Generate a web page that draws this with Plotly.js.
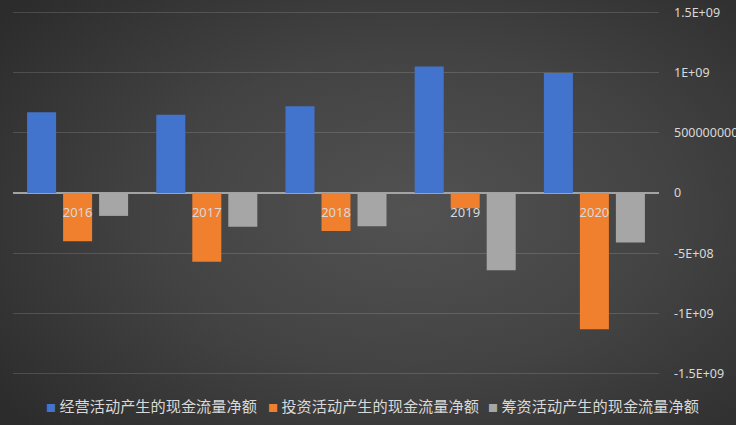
<!DOCTYPE html>
<html><head><meta charset="utf-8">
<script src="https://cdn.plot.ly/plotly-3.0.1.min.js"></script>
<style>
html,body{margin:0;padding:0;}
#chart{width:736px;height:425px;background:radial-gradient(ellipse 70% 75% at 56% 50%, #525252 0%, #434343 50%, #2c2c2c 100%);}
</style></head>
<body><div id="chart"></div>
<script>
const years = ['2016','2017','2018','2019','2020'];
const seriesNames = ['经营活动产生的现金流量净额','投资活动产生的现金流量净额','筹资活动产生的现金流量净额'];
const operating = [6.7e8, 6.5e8, 7.2e8, 1.05e9, 9.95e8];
const investing = [-4.0e8, -5.7e8, -3.15e8, -1.27e8, -1.13e9];
const financing = [-1.9e8, -2.8e8, -2.75e8, -6.4e8, -4.1e8];
const seriesColors = ['#4374cd','#f07f2e','#a6a6a6'];
const yTickVals = [1.5e9, 1e9, 5e8, 0, -5e8, -1e9, -1.5e9];
const yTickText = ['1.5E+09','1E+09','500000000','0','-5E+08','-1E+09','-1.5E+09'];

const values = [operating, investing, financing];
const traces = values.map((v,i)=>({
  type:'bar', x:years, y:v, name:seriesNames[i],
  marker:{color:seriesColors[i]}, hoverinfo:'none', showlegend:false
}));

const legendX = [44, 266, 486];
const plotL = 13, plotW = 646, plotT = 11, plotH = 364;
const annotations = seriesNames.map((n,i)=>({
  xref:'paper', yref:'paper',
  x:(legendX[i]-plotL)/plotW, y:(plotT+plotH-405)/plotH,
  xanchor:'left', yanchor:'middle', showarrow:false,
  text:'<span style="color:'+seriesColors[i]+';font-size:10px">■</span> '+n,
  font:{family:'Noto Sans CJK SC', size:15.2, color:'#d9d9d9'}
}));

const layout = {
  width:736, height:425,
  margin:{l:plotL, r:736-plotL-plotW, t:plotT, b:425-plotT-plotH},
  paper_bgcolor:'rgba(0,0,0,0)', plot_bgcolor:'rgba(0,0,0,0)',
  barmode:'group', bargap:0.164, bargroupgap:0.194,
  showlegend:false,
  xaxis:{type:'category', anchor:'free', position:0.5, showgrid:false, showline:false,
    zeroline:false, ticks:'', tickfont:{family:'Noto Sans, sans-serif', size:13, color:'#d9d9d9'},
    ticklabelstandoff:10},
  yaxis:{side:'right', range:[-1.51e9,1.51e9], tickvals:yTickVals, ticktext:yTickText,
    showgrid:true, gridcolor:'rgba(255,255,255,0.14)', gridwidth:1,
    zeroline:true, zerolinecolor:'#a3a3a3', zerolinewidth:2, showline:false, ticks:'',
    ticklabelstandoff:14,
    tickfont:{family:'Noto Sans, sans-serif', size:12.5, color:'#d9d9d9'}},
  annotations:annotations
};
Plotly.newPlot('chart', traces, layout, {displayModeBar:false, staticPlot:true});
</script></body></html>
